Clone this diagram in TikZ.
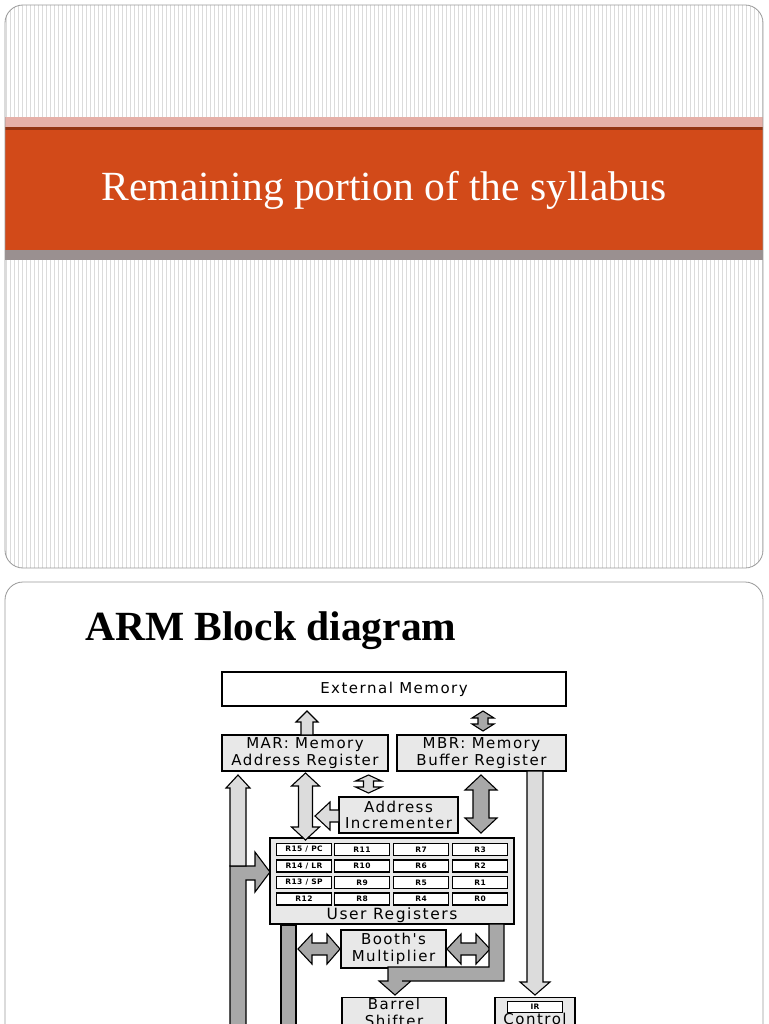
\documentclass[tikz,border=0pt]{standalone}
\usepackage{fontspec}
\setmainfont{Liberation Serif}
\newfontfamily\dsans{DejaVu Sans}[LetterSpace=10]
\newfontfamily\dsansr{DejaVu Sans}[LetterSpace=6]
\definecolor{lg}{HTML}{DCDCDC}
\definecolor{dg}{HTML}{A8A8A8}
\definecolor{bx}{HTML}{E8E8E8}
\definecolor{orng}{HTML}{D24A19}
\definecolor{pnk}{HTML}{E6B0A8}
\definecolor{shd}{HTML}{9A9090}
\newcommand\varr[7]{\draw[blk,fill=#7] ({#1-#5},#2)--({#1-#5},#3)--({#1-#6},#3)--(#1,#4)--({#1+#6},#3)--({#1+#5},#3)--({#1+#5},#2)--cycle;}
\newcommand\vdarr[8]{\draw[blk,fill=#8] ({#1-#6},#3)--({#1-#7},#3)--(#1,#2)--({#1+#7},#3)--({#1+#6},#3)--({#1+#6},#4)--({#1+#7},#4)--(#1,#5)--({#1-#7},#4)--({#1-#6},#4)--cycle;}
\newcommand\hdarr[8]{\draw[blk,fill=#8] (#3,{#1-#6})--(#3,{#1-#7})--(#2,#1)--(#3,{#1+#7})--(#3,{#1+#6})--(#4,{#1+#6})--(#4,{#1+#7})--(#5,#1)--(#4,{#1-#7})--(#4,{#1-#6})--cycle;}
\newcommand\harr[7]{\draw[blk,fill=#7] (#2,{#1-#5})--(#3,{#1-#5})--(#3,{#1-#6})--(#4,#1)--(#3,{#1+#6})--(#3,{#1+#5})--(#2,{#1+#5})--cycle;}
\begin{document}
\begin{tikzpicture}[x=1pt,y=-1pt,
  blk/.style={draw=black,line width=1.1pt,line join=miter},
  box/.style={draw=black,line width=1.2pt,fill=bx,inner sep=0pt,align=center,font=\dsans\fontsize{15}{16.5}\selectfont},
  lbl/.style={inner sep=0pt,align=center,font=\dsans\fontsize{15}{16.5}\selectfont},
  reg/.style={draw=black,line width=1.2pt,fill=white,inner sep=0pt,minimum width=55pt,minimum height=12pt,font=\dsansr\bfseries\fontsize{7.5}{8}\selectfont}]
\useasboundingbox (0,0) rectangle (768,1024);
\fill[white] (0,0) rectangle (768,1024);
% slide 1
\begin{scope}
\clip[rounded corners=18pt] (5,5) rectangle (763,568);
\fill[white] (5,5) rectangle (763,568);
\foreach \i in {0,...,190} {\draw[gray!28,line width=0.7pt] ({6+4*\i},5) -- ({6+4*\i},568);}
\fill[pnk] (5,117) rectangle (763,127);
\fill[orng] (5,127) rectangle (763,250);
\fill[orng!70!black] (5,127) rectangle (763,130);
\fill[shd] (5,250) rectangle (763,260);
\end{scope}
\draw[gray!80,line width=0.8pt,rounded corners=18pt] (5,5) rectangle (763,568);
\node[text=white,font=\fontsize{41.5}{44}\selectfont] (t1) at (384,190) {Remaining portion of the syllabus};
% slide 2
\draw[gray!80,line width=0.8pt,rounded corners=18pt,fill=white] (5,582) rectangle (763,1060);
\node[anchor=west,inner sep=0pt,font=\bfseries\fontsize{41.5}{44}\selectfont] (t2) at (85,631) {ARM Block diagram};
% boxes
\node[box,fill=white,minimum width=344pt,minimum height=34pt] (ext) at (394,689) {External Memory};
\node[box,minimum width=166pt,minimum height=36pt] (mar) at (305,753) {MAR: Memory\\Address Register};
\node[box,minimum width=169pt,minimum height=36pt] (mbr) at (481.5,753) {MBR: Memory\\Buffer Register};
\node[box,minimum width=119pt,minimum height=36pt] (inc) at (398.5,815) {Address\\Incrementer};
\node[box,minimum width=244pt,minimum height=86pt] (ur) at (392,881) {};
\node[lbl,font=\dsans\fontsize{15.5}{16}\selectfont] (urt) at (392,915) {User Registers};
\foreach \n [count=\k from 0] in {{R15 / PC},{R14 / LR},{R13 / SP},R12}
  \node[reg] at (304,{849.5+16.5*\k}) {\n};
\foreach \n [count=\k from 0] in {R11,R10,R9,R8}
  \node[reg] at (362,{849.5+16.5*\k}) {\n};
\foreach \n [count=\k from 0] in {R7,R6,R5,R4}
  \node[reg] at (421,{849.5+16.5*\k}) {\n};
\foreach \n [count=\k from 0] in {R3,R2,R1,R0}
  \node[reg] at (480,{849.5+16.5*\k}) {\n};
\node[box,minimum width=105pt,minimum height=38pt] (bm) at (393.5,949) {Booth's\\Multiplier};
\node[box,minimum width=104pt,minimum height=50pt,anchor=north] (bs) at (394,997) {};
\node[lbl,anchor=north] (bst) at (394,998) {Barrel\\Shifter};
\node[box,minimum width=80pt,minimum height=50pt,anchor=north] (ctl) at (535,997) {};
\node[reg,minimum width=55pt,minimum height=11pt] (ir) at (535,1007) {IR};
\node[lbl,anchor=north] (ctlt) at (535,1013) {Control};
% arrows
\varr{307}{735}{722}{711}{6}{11}{lg}
\vdarr{483}{711}{718}{724}{731}{5}{11}{dg}
\vdarr{305.5}{773}{786}{827}{840}{7}{14}{lg}
\vdarr{368.5}{775}{781}{787}{793}{5}{13}{lg}
\harr{816}{339}{330}{315}{6}{14}{lg}
\vdarr{481}{775}{790}{818}{833}{8}{16}{dg}
\varr{535}{771}{982}{995}{8}{15}{lg}
\hdarr{949}{298}{312}{327}{340}{6}{15}{dg}
\hdarr{949}{490}{476}{461}{447}{6}{15}{dg}
\draw[blk,fill=dg] (489,924)--(504,924)--(504,981)--(402,981)--(411,981)--(395,995)--(379,981)--(388,981)--(388,967)--(489,967)--cycle;
\draw[blk,fill=dg] (281,925) rectangle (296,1030);
\draw[blk,fill=dg] (230,1030)--(230,866)--(255,866)--(255,852)--(270,872)--(255,892)--(255,880)--(246,880)--(246,1030)--cycle;
\draw[blk,fill=lg] (230,866)--(230,788)--(226,788)--(238,775)--(250,788)--(246,788)--(246,866)--cycle;
\end{tikzpicture}
\end{document}
